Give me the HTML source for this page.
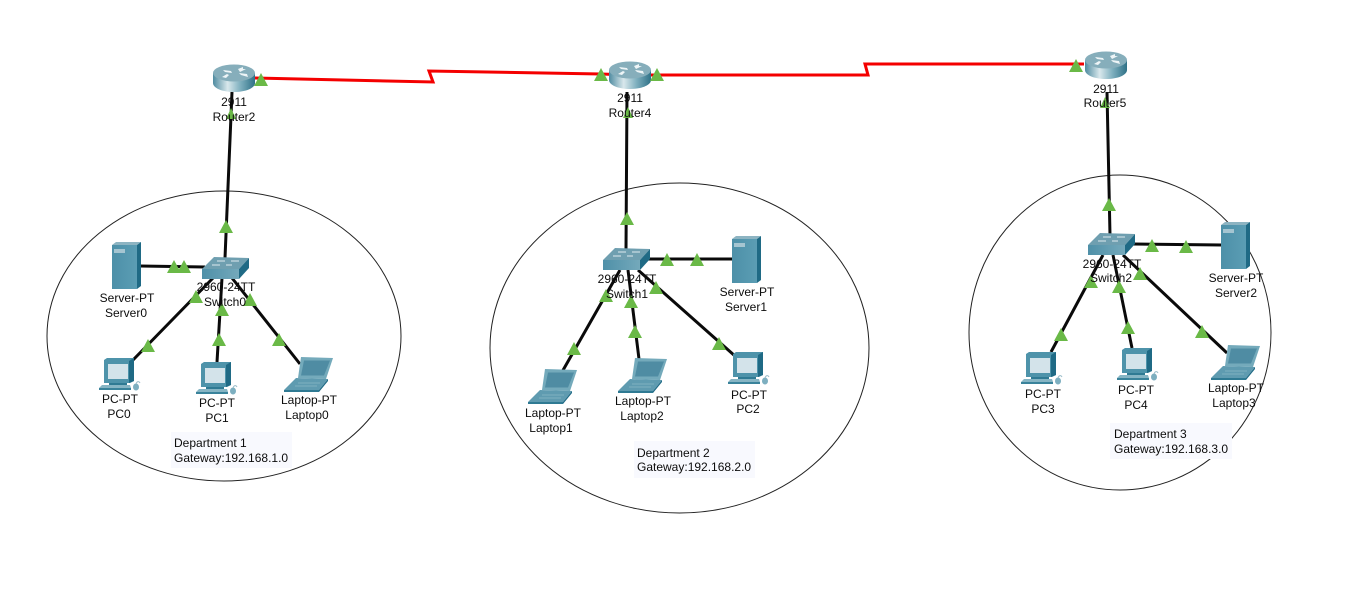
<!DOCTYPE html>
<html>
<head>
<meta charset="utf-8">
<style>
html,body{margin:0;padding:0;background:#fff;width:1358px;height:614px;overflow:hidden}
svg{display:block}
text{font-family:"Liberation Sans",sans-serif;font-size:12px;fill:#0c0c0c;text-anchor:middle}
.l{text-anchor:start}
.k{stroke:#0a0a0a;stroke-width:3;fill:none}
.e{fill:none;stroke:#222;stroke-width:1}
.r{fill:none;stroke:#f40000;stroke-width:3}
.b{fill:#f8f9fe}
</style>
</head>
<body>
<svg width="1358" height="614" viewBox="0 0 1358 614" xmlns="http://www.w3.org/2000/svg">
<defs>
<linearGradient id="rg" x1="0" x2="1" y1="0" y2="0">
<stop offset="0" stop-color="#4f8ba0"/><stop offset=".35" stop-color="#d9e8ec"/><stop offset=".65" stop-color="#7fb0bf"/><stop offset="1" stop-color="#2f7187"/>
</linearGradient>
<linearGradient id="sg" x1="0" x2="1" y1="0" y2="0">
<stop offset="0" stop-color="#4d90a8"/><stop offset="1" stop-color="#5b9db4"/>
</linearGradient>
<linearGradient id="fg" x1="0" x2="1" y1="0" y2="0">
<stop offset="0" stop-color="#4f90a8"/><stop offset="1" stop-color="#74a9bb"/>
</linearGradient>
<symbol id="router" width="42" height="27" viewBox="0 0 42 27" overflow="visible">
<path d="M0 8V18C0 23 9 27 21 27S42 23 42 18V8Z" fill="url(#rg)"/>
<ellipse cx="21" cy="8" rx="21" ry="8.5" fill="#86aebb"/>
<path d="M10 5l8 1 1 2-7-1zM25 4l5-2 0 2 3 0-6 3zM9 12l5-3 2 1-3 3zM26 8l8 1 1 3-7-2z" fill="#eef5f7"/>
</symbol>
<symbol id="switch" width="47" height="22" viewBox="0 0 47 22" overflow="visible">
<polygon points="0,12 12,0 47,1 37,12" fill="#6f9fb0"/>
<polygon points="0,12 37,12 37,22 0,22" fill="url(#fg)"/>
<polygon points="37,12 47,1 47,11 37,22" fill="#1f6a85"/>
<path d="M15 4h8M29 4h8M10 8h8M24 8h6" stroke="#dce9ee" stroke-width="1"/>
</symbol>
<symbol id="server" width="29" height="48" viewBox="0 0 29 48" overflow="visible">
<polygon points="0,3 4,0 29,0 25,3" fill="#8db4c2"/>
<rect x="0" y="3" width="25" height="44" fill="url(#sg)"/>
<polygon points="25,3 29,0 29,44 25,47" fill="#1f6a85"/>
<rect x="2" y="7" width="11" height="4" fill="#a5c5d1"/>
</symbol>
<symbol id="pc" width="42" height="34" viewBox="0 0 42 34" overflow="visible">
<polygon points="5,2 8,0 35,0 35,23 31,25 5,25" fill="#4e93aa"/>
<polygon points="30,3 35,0 35,23 30,25" fill="#1f6a85"/>
<rect x="9" y="6" width="20" height="15" fill="#d3e3ea"/>
<rect x="10" y="25" width="18" height="2" fill="#2f7a93"/>
<polygon points="3,27 31,27 32,30 0,30" fill="#86b5c4"/>
<polygon points="0,30 32,30 32,32 0,32" fill="#3a839b"/>
<ellipse cx="37" cy="29" rx="3" ry="3.5" fill="#7dafc0"/>
<path d="M37 26c1-3 3-3 4-1" stroke="#9bbdc9" fill="none"/>
</symbol>
<symbol id="laptop" width="49" height="35" viewBox="0 0 49 35" overflow="visible">
<polygon points="14,21 17,0 49,1 42,22" fill="#74aabb"/>
<polygon points="20,3.5 46,3.5 40,18.5 17,18.5" fill="#4f8ca3"/>
<polygon points="0,33 12,21 44,22 35,33" fill="#5f9bb0"/>
<polygon points="0,33 35,33 35,35 0,35" fill="#2f7a93"/>
<polygon points="35,33 44,22 44,24 35,35" fill="#1f6a85"/>
<path d="M14 26h22M11 29h22" stroke="#7fb0c0"/>
</symbol>
<symbol id="tri" width="14" height="13" viewBox="0 0 14 13" preserveAspectRatio="none"><polygon points="7,0 14,13 0,13" fill="#6ab947"/></symbol>
</defs>

<ellipse class="e" cx="224" cy="336" rx="177" ry="145"/>
<ellipse class="e" cx="679.5" cy="348" rx="189.5" ry="165"/>
<ellipse class="e" cx="1120" cy="332.5" rx="151" ry="157.5"/>

<polyline class="r" points="255,78 433,82 429,71 601,74 630,75"/>
<polyline class="r" points="630,75 868,75 865,64 1084,64"/>

<path class="k" d="M232 92L225 258M140 266L205 267M213 278L133 360M222 278L217 362M232 278L300 364"/>
<path class="k" d="M627 92L626 250M648 259L733 259M620 270L562 372M628 270L639 359M638 270L735 356"/>
<path class="k" d="M1107 92L1110 235M1133 244L1222 245M1103 255L1051 352M1113 255L1132 348M1123 255L1227 353"/>

<use href="#router" x="213" y="65"/>
<use href="#router" x="609" y="62"/>
<use href="#router" x="1085" y="52"/>
<use href="#switch" x="202" y="257"/>
<use href="#switch" x="603" y="248"/>
<use href="#switch" x="1088" y="233"/>
<use href="#server" x="112" y="242"/>
<use href="#server" x="732" y="236"/>
<use href="#server" x="1221" y="222"/>
<use href="#pc" x="99" y="358"/>
<use href="#pc" x="196" y="362"/>
<use href="#pc" x="728" y="352"/>
<use href="#pc" x="1021" y="352"/>
<use href="#pc" x="1117" y="348"/>
<use href="#laptop" x="284" y="357"/>
<use href="#laptop" x="528" y="369"/>
<use href="#laptop" x="618" y="358"/>
<use href="#laptop" x="1211" y="345"/>

<rect class="b" x="171" y="432" width="121" height="36"/>
<rect class="b" x="634" y="441" width="121" height="37"/>
<rect class="b" x="1110" y="423" width="122" height="36"/>

<g>
<use href="#tri" x="254" y="73"/>
<use href="#tri" x="226" y="108" width="10" height="11"/>
<use href="#tri" x="219" y="220"/>
<use href="#tri" x="167" y="260"/>
<use href="#tri" x="177" y="260"/>
<use href="#tri" x="189" y="290"/>
<use href="#tri" x="215" y="303"/>
<use href="#tri" x="243" y="293"/>
<use href="#tri" x="141" y="339"/>
<use href="#tri" x="212" y="333"/>
<use href="#tri" x="272" y="333"/>
<use href="#tri" x="594" y="68"/>
<use href="#tri" x="650" y="68"/>
<use href="#tri" x="623" y="107" width="10" height="11"/>
<use href="#tri" x="620" y="212"/>
<use href="#tri" x="660" y="253"/>
<use href="#tri" x="690" y="253"/>
<use href="#tri" x="599" y="289"/>
<use href="#tri" x="624" y="295"/>
<use href="#tri" x="649" y="281"/>
<use href="#tri" x="567" y="342"/>
<use href="#tri" x="628" y="325"/>
<use href="#tri" x="712" y="337"/>
<use href="#tri" x="1069" y="59"/>
<use href="#tri" x="1100" y="97" width="10" height="11"/>
<use href="#tri" x="1102" y="198"/>
<use href="#tri" x="1145" y="239"/>
<use href="#tri" x="1179" y="240"/>
<use href="#tri" x="1084" y="275"/>
<use href="#tri" x="1112" y="280"/>
<use href="#tri" x="1133" y="267"/>
<use href="#tri" x="1054" y="328"/>
<use href="#tri" x="1121" y="321"/>
<use href="#tri" x="1195" y="325"/>
</g>

<text x="234" y="106">2911</text><text x="234" y="121">Router2</text>
<text x="630" y="102">2911</text><text x="630" y="117">Router4</text>
<text x="1106" y="93">2911</text><text x="1105" y="107">Router5</text>
<text x="226" y="291">2960-24TT</text><text x="225" y="306">Switch0</text>
<text x="127" y="302">Server-PT</text><text x="126" y="317">Server0</text>
<text x="120" y="403">PC-PT</text><text x="119" y="418">PC0</text>
<text x="217" y="407">PC-PT</text><text x="217" y="422">PC1</text>
<text x="309" y="404">Laptop-PT</text><text x="307" y="419">Laptop0</text>
<text class="l" x="174" y="447">Department 1</text><text class="l" x="174" y="462">Gateway:192.168.1.0</text>
<text x="627" y="283">2960-24TT</text><text x="627" y="298">Switch1</text>
<text x="747" y="296">Server-PT</text><text x="746" y="311">Server1</text>
<text x="553" y="417">Laptop-PT</text><text x="551" y="432">Laptop1</text>
<text x="643" y="405">Laptop-PT</text><text x="642" y="420">Laptop2</text>
<text x="749" y="399">PC-PT</text><text x="748" y="413">PC2</text>
<text class="l" x="637" y="457">Department 2</text><text class="l" x="637" y="471">Gateway:192.168.2.0</text>
<text x="1112" y="268">2960-24TT</text><text x="1111" y="282">Switch2</text>
<text x="1236" y="282">Server-PT</text><text x="1236" y="297">Server2</text>
<text x="1043" y="398">PC-PT</text><text x="1043" y="413">PC3</text>
<text x="1136" y="394">PC-PT</text><text x="1136" y="409">PC4</text>
<text x="1236" y="392">Laptop-PT</text><text x="1234" y="407">Laptop3</text>
<text class="l" x="1114" y="438">Department 3</text><text class="l" x="1114" y="453">Gateway:192.168.3.0</text>
</svg>
</body>
</html>
